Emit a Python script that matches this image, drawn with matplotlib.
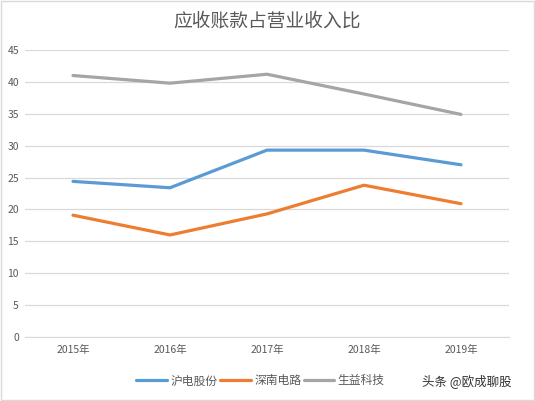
import matplotlib

matplotlib.use("Agg")
import matplotlib.pyplot as plt
from matplotlib.patches import Rectangle

plt.rcParams["font.family"] = ["Noto Sans CJK SC", "DejaVu Sans"]

# --- values -------------------------------------------------------------
YEARS = ["2015年", "2016年", "2017年", "2018年", "2019年"]
SERIES_NAMES = ["沪电股份", "深南电路", "生益科技"]
HUDIAN = [24.4, 23.4, 29.3, 29.3, 27.0]
SHENNAN = [19.1, 16.0, 19.3, 23.8, 20.9]
SHENGYI = [41.0, 39.8, 41.2, 38.1, 34.9]
YTICKS = list(range(0, 50, 5))

C_BLUE = "#5B9BD5"
C_ORANGE = "#ED7D31"
C_GRAY = "#A5A5A5"
C_TEXT = "#595959"

fig = plt.figure(figsize=(5.35, 4.01), dpi=100)
fig.patches.append(Rectangle((0.002, 0.002), 0.996, 0.995, transform=fig.transFigure,
                             fill=False, edgecolor="#D9D9D9", lw=1.0))
ax = fig.add_axes([0.0458, 0.1596, 0.9065, 0.7157])

x = range(len(YEARS))
for vals, name, c in zip((HUDIAN, SHENNAN, SHENGYI), SERIES_NAMES, (C_BLUE, C_ORANGE, C_GRAY)):
    ax.plot(x, vals, color=c, lw=2.3, label=name, solid_capstyle="round")

ax.set_xlim(-0.5, len(YEARS) - 0.5)
ax.set_ylim(0, 45)
ax.set_yticks(YTICKS)
ax.set_xticks(list(x))
ax.set_xticklabels(YEARS)
ax.grid(axis="y", color="#D9D9D9", lw=0.9)
ax.set_axisbelow(True)
for s in ax.spines.values():
    s.set_visible(False)
ax.spines["bottom"].set_visible(True)
ax.spines["bottom"].set_color("#D9D9D9")
ax.tick_params(length=0, labelsize=7.5, colors=C_TEXT, pad=6)
ax.tick_params(axis="y", pad=4)

fig.text(0.5, 0.948, "应收账款占营业收入比", ha="center", va="center",
         fontsize=13.5, color=C_TEXT)

fig.legend(loc="center", bbox_to_anchor=(0.487, 0.05), ncol=3, frameon=False,
           fontsize=8.5, handlelength=2.6, handletextpad=0.3, columnspacing=0.2,
           labelcolor=C_TEXT)

fig.text(0.957, 0.05, "头条 @欧成聊股", ha="right", va="center", fontsize=9, color="#333333")

fig.savefig("out.png", dpi=100)
